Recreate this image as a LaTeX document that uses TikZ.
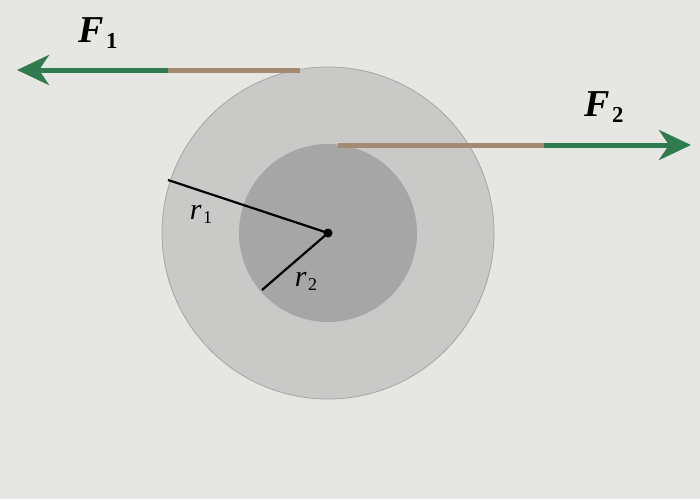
\documentclass[tikz,border=0pt]{standalone}
\usepackage{fontspec}
\setmainfont{Liberation Serif}
\usetikzlibrary{arrows.meta}
\definecolor{bgc}{HTML}{E6E6E3}
\definecolor{outerc}{HTML}{C9C9C8}
\definecolor{innerc}{HTML}{A6A6A6}
\definecolor{forcegreen}{HTML}{2F7A4E}
\definecolor{ropebrown}{HTML}{A48A72}
\tikzset{
  rope/.style={ropebrown, line width=5pt},
  force/.style={forcegreen, line width=5pt, -{Stealth[length=32pt,width=30pt,inset=10pt]}},
  radius line/.style={black, line width=2.2pt},
  biglabel/.style={font=\fontsize{38}{42}\selectfont\bfseries\itshape, inner sep=0pt},
  smalllabel/.style={font=\fontsize{30}{34}\selectfont\itshape, inner sep=0pt},
}
\newcommand{\lab}[2]{#1\kern0.06em\raisebox{-0.3ex}{\scalebox{0.6}{\upshape #2}}}
\begin{document}
\begin{tikzpicture}[x=1pt,y=-1pt]
\fill[bgc] (0,0) rectangle (700,499);
\useasboundingbox (0,0) rectangle (700,499);
\coordinate (c) at (328,233);
\fill[outerc, draw=gray!70, line width=0.8pt] (c) circle (166);
\fill[innerc] (c) circle (89);
% ropes and forces
\coordinate (t1) at (300,70);
\coordinate (g1) at (168,70);
\coordinate (e1) at (17,70);
\coordinate (t2) at (338,145);
\coordinate (g2) at (544,145);
\coordinate (e2) at (691,145);
\draw[rope] (t1) -- (g1);
\draw[force] (g1) -- (e1);
\draw[rope] (t2) -- (g2);
\draw[force] (g2) -- (e2);
% radii
\coordinate (p1) at (168,180);
\coordinate (p2) at (262,290);
\draw[radius line] (c) -- (p1);
\draw[radius line] (c) -- (p2);
\fill[black] (c) circle (4.5);
% labels
\node[biglabel] (F1) at (98,33) {\lab{F}{1}};
\node[biglabel] (F2) at (604,107) {\lab{F}{2}};
\node[smalllabel] (r1) at (201,214) {\lab{r}{1}};
\node[smalllabel] (r2) at (306,281) {\lab{r}{2}};
\end{tikzpicture}
\end{document}
